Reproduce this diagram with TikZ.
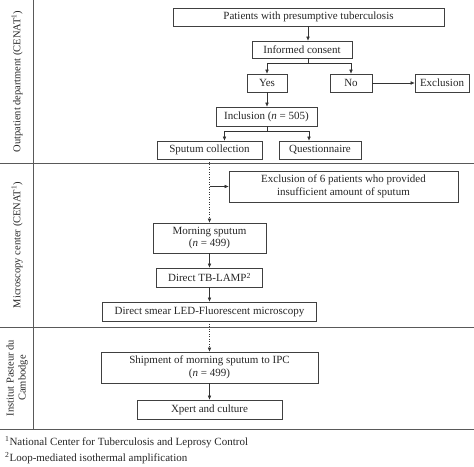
\documentclass[tikz,border=0pt]{standalone}
\usepackage{fontspec}
\setmainfont{Liberation Serif}
\usetikzlibrary{arrows.meta}

\begin{document}
\begin{tikzpicture}[x=1pt,y=-1pt,
    box/.style={draw=black!75, line width=0.6pt, inner sep=0pt, align=center,
      text=black!85, font=\fontsize{11}{12.5}\selectfont},
    arr/.style={draw=black!80, line width=0.5pt, -{Latex[length=4pt,width=3.6pt]}},
    dots/.style={arr, dotted},
    lane/.style={draw=black!65, line width=0.6pt},
    side/.style={rotate=90, align=center, text=black!85, font=\fontsize{10.5}{12}\selectfont},
    note/.style={anchor=west, inner sep=0pt, text=black!85, font=\fontsize{11}{12}\selectfont}]
    \useasboundingbox (0,0) rectangle (474,466);
    % 分区线
    \draw[lane] (33,0) -- (33,429);
    \draw[lane] (0,163) -- (474,163);
    \draw[lane] (0,327) -- (474,327);
    \draw[lane] (0,429) -- (474,429);
    % 分区标题
    \node[side] (outp) at (17,81.5) {Outpatient department (CENAT\textsuperscript{1})};
    \node[side] (micro) at (17,245) {Microscopy center (CENAT\textsuperscript{1})};
    \node[side] (ipc) at (17,378) {Institut Pasteur du\\Cambodge};
    % 门诊部
    \node[box, minimum width=271pt, minimum height=18pt] (pat) at (308.5,17) {Patients with presumptive tuberculosis};
    \node[box, minimum width=100pt, minimum height=17pt] (cons) at (302,49.5) {Informed consent};
    \node[box, minimum width=40pt, minimum height=18pt] (yes) at (267,83) {Yes};
    \node[box, minimum width=42pt, minimum height=18pt] (no) at (351,83) {No};
    \node[box, minimum width=54pt, minimum height=18pt] (excl) at (442,83) {Exclusion};
    \node[box, minimum width=101pt, minimum height=19pt] (incl) at (266.5,116.5) {Inclusion (\textit{n} = 505)};
    \node[box, minimum width=105pt, minimum height=18pt] (spc) at (209.5,150) {Sputum collection};
    \node[box, minimum width=82pt, minimum height=18pt] (que) at (320,150) {Questionnaire};
    % 显微镜中心
    \node[box, minimum width=229pt, minimum height=31pt] (exc) at (343.5,186.5) {Exclusion of 6 patients who provided\\insufficient amount of sputum};
    \node[box, minimum width=113pt, minimum height=30pt] (msp) at (209.5,238) {Morning sputum\\(\textit{n} = 499)};
    \node[box, minimum width=106pt, minimum height=19pt] (lamp) at (209.5,277.5) {Direct TB-LAMP\textsuperscript{2}};
    \node[box, minimum width=214pt, minimum height=19pt] (smear) at (209.5,311.5) {Direct smear LED-Fluorescent microscopy};
    % 巴斯德研究所
    \node[box, minimum width=217pt, minimum height=31pt] (ship) at (209.5,367.5) {Shipment of morning sputum to IPC\\(\textit{n} = 499)};
    \node[box, minimum width=145pt, minimum height=19pt] (xpert) at (209.5,409.5) {Xpert and culture};
    % 连线
    \coordinate (c1) at (308,63);
    \coordinate (c2) at (267,131);
    \draw[arr] (pat.south -| c1) -- (cons.north -| c1);
    \draw[draw=black!80, line width=0.5pt] (cons.south -| c1) -- (c1);
    \draw[arr] (c1) -| (yes.north);
    \draw[arr] (c1) -| (no.north);
    \draw[arr] (no) -- (excl);
    \draw[arr] (yes) -- (yes |- incl.north);
    \draw[draw=black!80, line width=0.5pt] (incl.south -| c2) -- (c2);
    \draw[arr] (c2) -| ([xshift=15pt]spc.north);
    \draw[arr] (c2) -| ([xshift=-11pt]que.north);
    \draw[dots] (spc) -- (msp);
    \draw[arr] (spc.south |- exc.west) -- (exc.west);
    \draw[arr] (msp) -- (lamp);
    \draw[arr] (lamp) -- (smear);
    \draw[dots] (smear) -- (ship);
    \draw[arr] (ship) -- (xpert);
    % 脚注
    \node[note] (fn1) at (5,442) {\textsuperscript{1}National Center for Tuberculosis and Leprosy Control};
    \node[note] (fn2) at (5,458) {\textsuperscript{2}Loop-mediated isothermal amplification};
\end{tikzpicture}
\end{document}
